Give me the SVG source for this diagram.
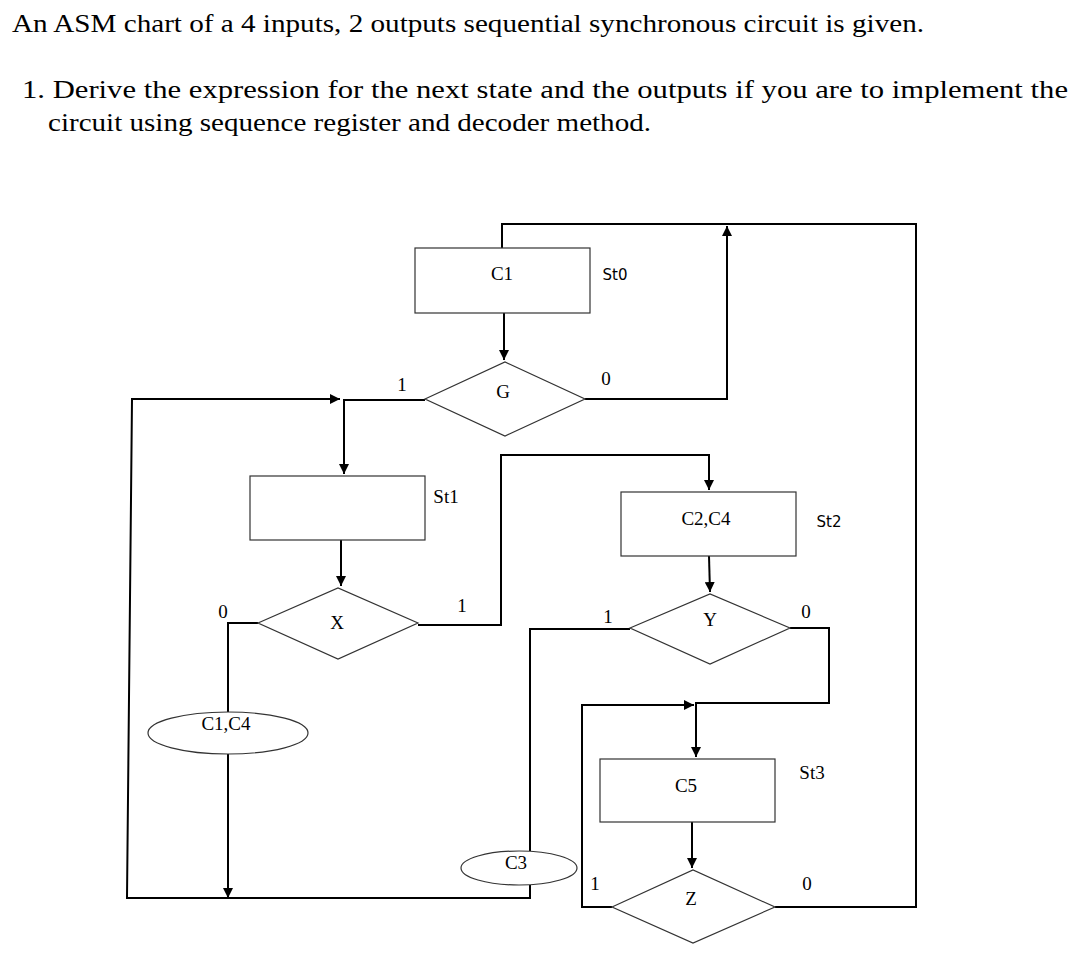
<svg xmlns="http://www.w3.org/2000/svg" width="1085" height="959" viewBox="0 0 1085 959">
<defs><marker id="a" viewBox="0 0 10 10" refX="10" refY="5" markerWidth="5" markerHeight="5" orient="auto"><path d="M0,0L10,5L0,10z" fill="#000"/></marker></defs>
<style>
.h{font-family:"Liberation Serif","Times New Roman","DejaVu Serif",serif;font-size:25px}
.t{font-family:"Liberation Serif","Times New Roman","DejaVu Serif",serif;font-size:19px;text-anchor:middle}
.u{font-family:"DejaVu Sans",sans-serif;font-size:15px;text-anchor:middle}
.s{fill:#fff;stroke:#333;stroke-width:1.2}
.c{fill:none;stroke:#000;stroke-width:2}
</style>
<rect width="1085" height="959" fill="#fff"/>
<text class="h" x="12" y="32" textLength="912" lengthAdjust="spacingAndGlyphs">An ASM chart of a 4 inputs, 2 outputs sequential synchronous circuit is given.</text>
<text class="h" x="22" y="98" textLength="1046" lengthAdjust="spacingAndGlyphs">1. Derive the expression for the next state and  the outputs if you are to implement the</text>
<text class="h" x="48" y="131" textLength="603" lengthAdjust="spacingAndGlyphs">circuit using sequence register and decoder method.</text>
<g id="connectors">
<path class="c" d="M504,313V360" marker-end="url(#a)"/>
<path class="c" d="M585,399H727V226" marker-end="url(#a)"/>
<path class="c" d="M502,248V224H916V907H775"/>
<path class="c" d="M425,400H344V474" marker-end="url(#a)"/>
<path class="c" d="M530,885V898H127L132,399H340" marker-end="url(#a)"/>
<path class="c" d="M341,540V586" marker-end="url(#a)"/>
<path class="c" d="M258,623H228V712"/>
<path class="c" d="M228,754V898" marker-end="url(#a)"/>
<path class="c" d="M418,625H501V455H709V490" marker-end="url(#a)"/>
<path class="c" d="M709,556L710,592" marker-end="url(#a)"/>
<path class="c" d="M630,629H530V851"/>
<path class="c" d="M790,628H829V703H696V757" marker-end="url(#a)"/>
<path class="c" d="M612,907H582V705H694" marker-end="url(#a)"/>
<path class="c" d="M692,822V868" marker-end="url(#a)"/>
</g>
<g id="St0"><rect class="s" x="415" y="248" width="175" height="65"/><text class="t" x="502" y="280">C1</text><text class="u" x="615" y="280">St0</text></g>
<g id="G"><path class="s" d="M425,399L505,362L585,399L505,436z"/><text class="t" x="503" y="398">G</text><text class="t" x="402" y="391">1</text><text class="t" x="606" y="385">0</text></g>
<g id="St1"><rect class="s" x="250" y="476" width="175" height="64"/><text class="t" x="446" y="503">St1</text></g>
<g id="X"><path class="s" d="M258,623L338,588L418,623L338,659z"/><text class="t" x="337" y="629">X</text><text class="t" x="223" y="618">0</text><text class="t" x="462" y="612">1</text></g>
<g id="C1C4"><ellipse class="s" cx="228" cy="733" rx="80" ry="21"/><text class="t" x="226" y="730">C1,C4</text></g>
<g id="St2"><rect class="s" x="621" y="492" width="175" height="64"/><text class="t" x="706" y="525">C2,C4</text><text class="u" x="829" y="527">St2</text></g>
<g id="Y"><path class="s" d="M630,628L710,594L790,628L710,664z"/><text class="t" x="710" y="626">Y</text><text class="t" x="608" y="623">1</text><text class="t" x="806" y="618">0</text></g>
<g id="C3"><ellipse class="s" cx="519" cy="868" rx="58" ry="17"/><text class="t" x="516" y="869">C3</text></g>
<g id="St3"><rect class="s" x="600" y="759" width="175" height="63"/><text class="t" x="686" y="792">C5</text><text class="t" x="812" y="779">St3</text></g>
<g id="Z"><path class="s" d="M612,907L693,870L775,907L693,943z"/><text class="t" x="691" y="905">Z</text><text class="t" x="595" y="890">1</text><text class="t" x="807" y="890">0</text></g>
</svg>
